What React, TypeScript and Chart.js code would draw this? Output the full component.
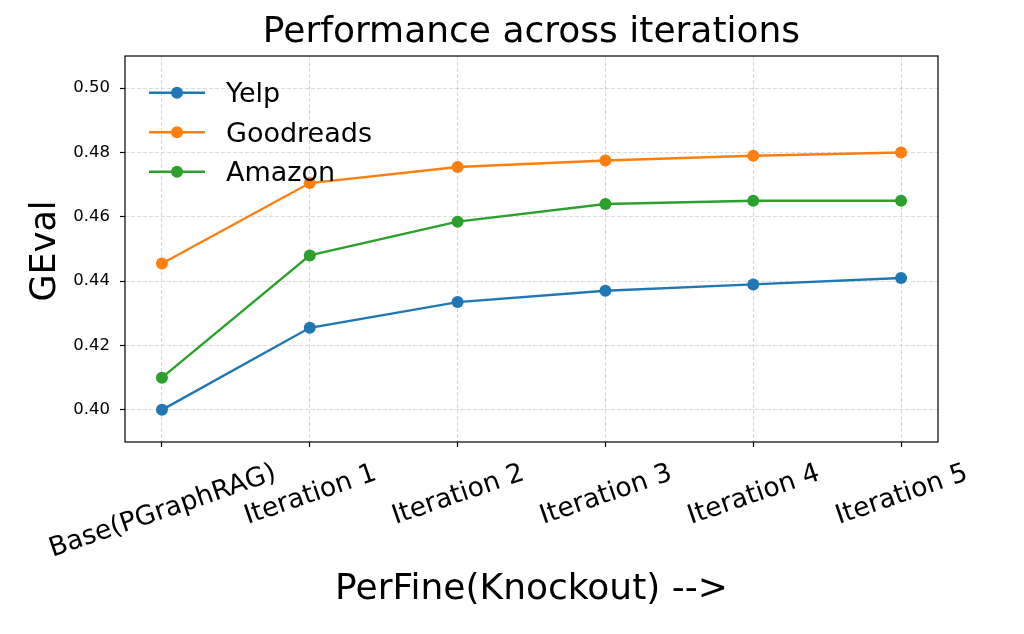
import React, { useEffect, useRef } from "react";
import { Chart, registerables } from "chart.js";

Chart.register(...registerables);

const categories = [
  "Base(PGraphRAG)",
  "Iteration 1",
  "Iteration 2",
  "Iteration 3",
  "Iteration 4",
  "Iteration 5",
];
const yelp = [0.4, 0.4255, 0.4335, 0.437, 0.439, 0.441];
const goodreads = [0.4455, 0.4705, 0.4755, 0.4775, 0.479, 0.48];
const amazon = [0.41, 0.448, 0.4585, 0.464, 0.465, 0.465];
const yTicks = [0.4, 0.42, 0.44, 0.46, 0.48, 0.5];
const seriesNames = ["Yelp", "Goodreads", "Amazon"];
const seriesColors = ["#1f77b4", "#ff7f0e", "#2ca02c"];
const titleText = "Performance across iterations";
const xTitle = "PerFine(Knockout) -->";
const yTitle = "GEval";

const FONT = '"DejaVu Sans", "Liberation Sans", sans-serif';

export default function App() {
  const ref = useRef<HTMLCanvasElement | null>(null);

  useEffect(() => {
    document.body.style.margin = "0";
    const canvas = ref.current;
    if (!canvas) return;
    const series = [yelp, goodreads, amazon];

    const overlay = {
      id: "overlay",
      afterDraw(chart: any) {
        const ctx = chart.ctx as CanvasRenderingContext2D;
        const { left, right, top, bottom } = chart.chartArea;
        const xs = chart.scales.x;
        ctx.save();
        // frame
        ctx.strokeStyle = "#000";
        ctx.lineWidth = 1.2;
        ctx.setLineDash([]);
        ctx.strokeRect(left, top, right - left, bottom - top);

        ctx.fillStyle = "#000";
        // title
        ctx.font = `36px ${FONT}`;
        ctx.textAlign = "center";
        ctx.textBaseline = "alphabetic";
        ctx.fillText(titleText, (left + right) / 2, 42);

        // x title
        ctx.font = `36px ${FONT}`;
        ctx.fillText(xTitle, (left + right) / 2, 599);

        // y title
        ctx.save();
        ctx.translate(55, (top + bottom) / 2 + 2);
        ctx.rotate(-Math.PI / 2);
        ctx.font = `35px ${FONT}`;
        ctx.fillText(yTitle, 0, 0);
        ctx.restore();

        // x tick labels (rotated, centered)
        const s = 26.5;
        const th = (19 * Math.PI) / 180;
        ctx.font = `${s}px ${FONT}`;
        categories.forEach((lab, i) => {
          const w = ctx.measureText(lab).width;
          const h = s * 1.164;
          const bh = w * Math.sin(th) + h * Math.cos(th);
          const cx = xs.getPixelForValue(i);
          const cy = 456 + bh / 2;
          ctx.save();
          ctx.translate(cx, cy);
          ctx.rotate(-th);
          ctx.textAlign = "center";
          ctx.textBaseline = "alphabetic";
          ctx.fillText(lab, 0, 0.346 * s);
          ctx.restore();
        });

        // legend
        const rowY = [92.7, 132.2, 171.7];
        seriesNames.forEach((name, i) => {
          const y = rowY[i];
          ctx.strokeStyle = seriesColors[i];
          ctx.lineWidth = 2.4;
          ctx.beginPath();
          ctx.moveTo(149, y);
          ctx.lineTo(205, y);
          ctx.stroke();
          ctx.fillStyle = seriesColors[i];
          ctx.beginPath();
          ctx.arc(177, y, 6, 0, Math.PI * 2);
          ctx.fill();
          ctx.fillStyle = "#000";
          ctx.font = `27px ${FONT}`;
          ctx.textAlign = "left";
          ctx.textBaseline = "alphabetic";
          ctx.fillText(name, 226, y + 9.5);
        });
        ctx.restore();
      },
    };

    const gridColor = "rgba(176,176,176,0.6)";

    const chart = new Chart(canvas, {
      type: "line",
      data: {
        datasets: series.map((vals, k) => ({
          label: seriesNames[k],
          data: vals.map((y, i) => ({ x: i, y })),
          borderColor: seriesColors[k],
          backgroundColor: seriesColors[k],
          pointBackgroundColor: seriesColors[k],
          pointBorderColor: seriesColors[k],
          borderWidth: 2.4,
          pointRadius: 6,
          pointBorderWidth: 0,
          tension: 0,
          fill: false,
        })),
      },
      options: {
        animation: false,
        responsive: false,
        devicePixelRatio: 1,
        layout: { padding: { top: 56, right: 86, left: 0, bottom: 0 } },
        plugins: {
          legend: { display: false },
          title: { display: false },
          tooltip: { enabled: false },
        },
        scales: {
          x: {
            type: "linear",
            min: -0.25,
            max: 5.25,
            afterBuildTicks: (sc: any) => {
              sc.ticks = categories.map((_, i) => ({ value: i }));
            },
            afterFit: (sc: any) => {
              sc.height = 192;
            },
            ticks: { display: false },
            grid: {
              color: gridColor,
              lineWidth: 0.8,
              drawTicks: true,
              tickLength: 5,
              tickColor: "#000",
              tickWidth: 1.2,
              tickBorderDash: [],
            },
            border: { display: false, dash: [4, 2] },
          },
          y: {
            type: "linear",
            min: 0.39,
            max: 0.51,
            afterBuildTicks: (sc: any) => {
              sc.ticks = yTicks.map((v) => ({ value: v }));
            },
            afterFit: (sc: any) => {
              sc.width = 125;
            },
            ticks: {
              callback: (v: any) => Number(v).toFixed(2),
              font: { family: FONT, size: 16.5 },
              color: "#000",
              padding: 10,
            },
            grid: {
              color: gridColor,
              lineWidth: 0.8,
              drawTicks: true,
              tickLength: 5,
              tickColor: "#000",
              tickWidth: 1.2,
              tickBorderDash: [],
            },
            border: { display: false, dash: [4, 2] },
          },
        },
      },
      plugins: [overlay],
    });

    return () => {
      chart.destroy();
    };
  }, []);

  return (
    <div style={{ width: 1024, height: 634, background: "#fff" }}>
      <canvas ref={ref} width={1024} height={634} style={{ display: "block" }} />
    </div>
  );
}
